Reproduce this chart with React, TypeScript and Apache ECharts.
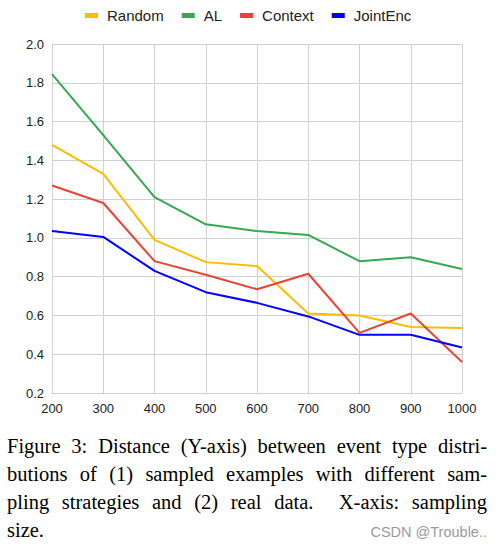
import { useRef, useEffect } from "react";
import * as echarts from "echarts";

const sizes = [200, 300, 400, 500, 600, 700, 800, 900, 1000];
const randomVals = [1.48, 1.33, 0.99, 0.875, 0.855, 0.61, 0.6, 0.54, 0.535];
const alVals = [1.845, 1.53, 1.21, 1.07, 1.035, 1.015, 0.88, 0.9, 0.84];
const contextVals = [1.27, 1.18, 0.88, 0.81, 0.735, 0.815, 0.51, 0.61, 0.36];
const jointVals = [1.035, 1.005, 0.83, 0.72, 0.665, 0.595, 0.5, 0.5, 0.435];

const seriesNames = ["Random", "AL", "Context", "JointEnc"];
const seriesColors = ["#fbbc04", "#34a853", "#ea4335", "#0000ff"];
const seriesValues = [randomVals, alVals, contextVals, jointVals];

const captionLines = [
  "Figure 3: Distance (Y-axis) between event type distri-",
  "butions of (1) sampled examples with different sam-",
  "pling strategies and (2) real data.  X-axis: sampling",
];
const captionLast = "size.";

const ChartBlock = () => {
  const chartRef = useRef<HTMLDivElement>(null);

  useEffect(() => {
    if (!chartRef.current) return;
    const myChart = echarts.init(chartRef.current, undefined, { renderer: "svg" });
    const option: any = {
      animation: false,
      textStyle: { fontFamily: "Liberation Sans, Arial, sans-serif" },
      legend: {
        top: 3,
        left: 80,
        itemWidth: 13,
        itemHeight: 5,
        itemGap: 18,
        icon: "rect",
        textStyle: { fontSize: 15, color: "#222", padding: [0, 0, 0, 4] },
        data: seriesNames,
      },
      grid: { left: 52, top: 44, width: 410, height: 349 },
      xAxis: {
        type: "value",
        min: 200,
        max: 1000,
        interval: 100,
        axisLine: { show: true, lineStyle: { color: "#d0d0d0" } },
        axisTick: { show: false },
        splitLine: { show: true, lineStyle: { color: "#d0d0d0" } },
        axisLabel: {
          color: "#222",
          fontSize: 13,
          margin: 9,
          formatter: (v: number) => String(v),
        },
      },
      yAxis: {
        type: "value",
        min: 0.2,
        max: 2.0,
        interval: 0.2,
        axisLine: { show: true, lineStyle: { color: "#d0d0d0" } },
        axisTick: { show: false },
        splitLine: { show: true, lineStyle: { color: "#d0d0d0" } },
        axisLabel: {
          color: "#222",
          fontSize: 13,
          margin: 8,
          formatter: (v: number) => v.toFixed(1),
        },
      },
      series: seriesNames.map((name, i) => ({
        name,
        type: "line",
        symbol: "none",
        color: seriesColors[i],
        lineStyle: { width: 2, color: seriesColors[i] },
        data: sizes.map((s, j) => [s, seriesValues[i][j]]),
      })),
    };
    myChart.setOption(option);

    return () => {
      myChart.dispose();
    };
  }, []);

  return (
    <div
      ref={chartRef}
      style={{ position: "absolute", left: 0, top: 0, width: 502, height: 425 }}
    ></div>
  );
};

const App = () => {
  return (
    <div style={{ position: "fixed", left: 0, top: 0, width: 502, height: 544, background: "#fff", overflow: "hidden" }}>
      <ChartBlock />
      <div
        style={{
          position: "absolute",
          left: 7,
          top: 432,
          width: 480,
          fontFamily: "Liberation Serif, Times New Roman, serif",
          fontSize: 20.5,
          lineHeight: "28px",
          color: "#000",
        }}
      >
        {captionLines.map((l, i) => (
          <div key={i} style={{ textAlign: "justify", textAlignLast: "justify", whiteSpace: "pre-wrap" }}>
            {l}
          </div>
        ))}
        <div style={{ position: "relative" }}>
          {captionLast}
          <span
            style={{
              position: "absolute",
              right: 0,
              bottom: 4,
              fontFamily: "Liberation Sans, Arial, sans-serif",
              fontSize: 14.5,
              lineHeight: "16px",
              color: "#9a9a9a",
            }}
          >
            CSDN @Trouble..
          </span>
        </div>
      </div>
    </div>
  );
};

export default App;
